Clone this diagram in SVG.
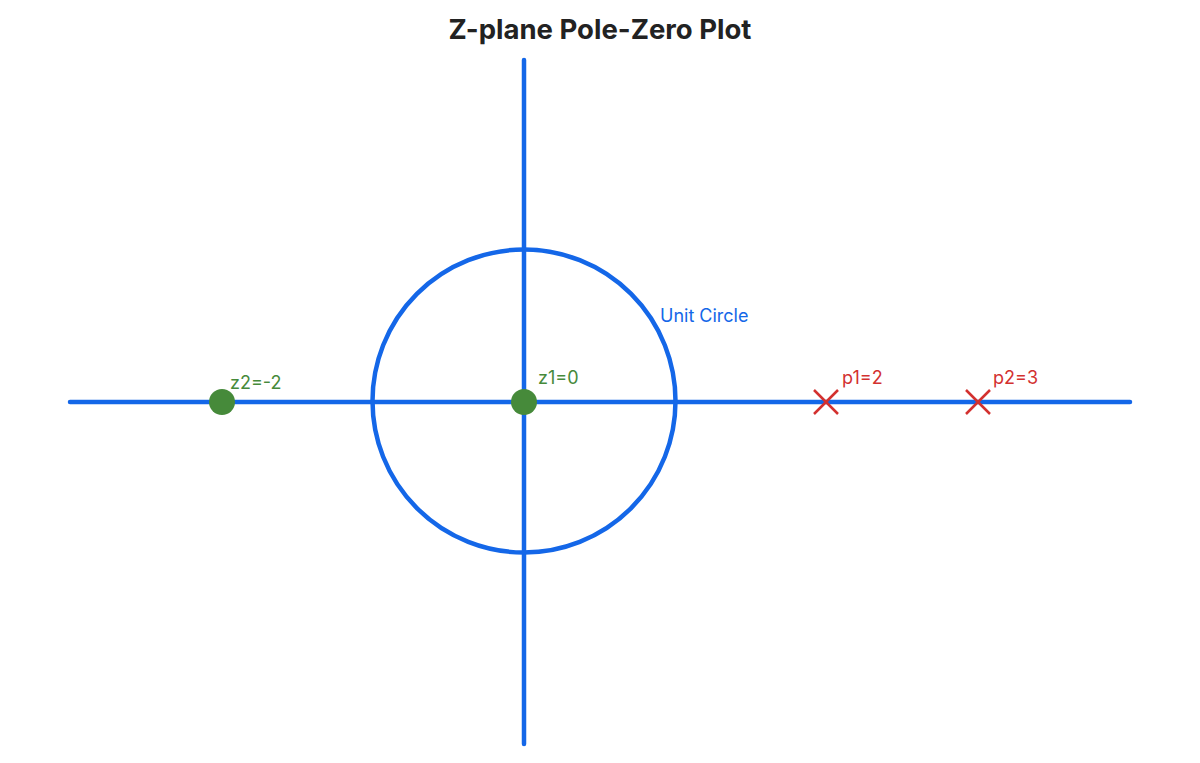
<svg xmlns="http://www.w3.org/2000/svg" width="1200" height="763" viewBox="0 0 1200 763">
<style>
.ax{stroke:#1467e8;stroke-width:4.5;stroke-linecap:round;fill:none}
.zero{fill:#468a3a}
.pole{stroke:#d3312f;stroke-width:2.5;fill:none}
.lz{font-family:Inter,"Noto Sans",sans-serif;font-size:18px;fill:#468a3a}
.lp{font-family:Inter,"Noto Sans",sans-serif;font-size:18px;fill:#d3312f}
.lb{font-family:Inter,"Noto Sans",sans-serif;font-size:18px;fill:#1467e8}
.title{font-family:Inter,"Noto Sans",sans-serif;font-size:27.5px;font-weight:bold;fill:#222}
</style>
<rect width="1200" height="763" fill="#fff"/>
<text class="title" x="600" y="39" text-anchor="middle">Z-plane Pole-Zero Plot</text>
<g id="axes">
<line class="ax" x1="70" y1="402" x2="1130" y2="402"/>
<line class="ax" x1="524" y1="60" x2="524" y2="744"/>
</g>
<g id="unit-circle">
<circle class="ax" cx="524" cy="401" r="151.5"/>
<text class="lb" x="660" y="322">Unit Circle</text>
</g>
<g id="z2">
<circle class="zero" cx="222" cy="402" r="13"/>
<text class="lz" x="230" y="389">z2=-2</text>
</g>
<g id="z1">
<circle class="zero" cx="524" cy="402" r="13"/>
<text class="lz" x="538" y="384">z1=0</text>
</g>
<g id="p1">
<path class="pole" d="M814 390L838 414M838 390L814 414"/>
<text class="lp" x="842" y="384">p1=2</text>
</g>
<g id="p2">
<path class="pole" d="M966 390L990 414M990 390L966 414"/>
<text class="lp" x="993" y="384">p2=3</text>
</g>
</svg>
